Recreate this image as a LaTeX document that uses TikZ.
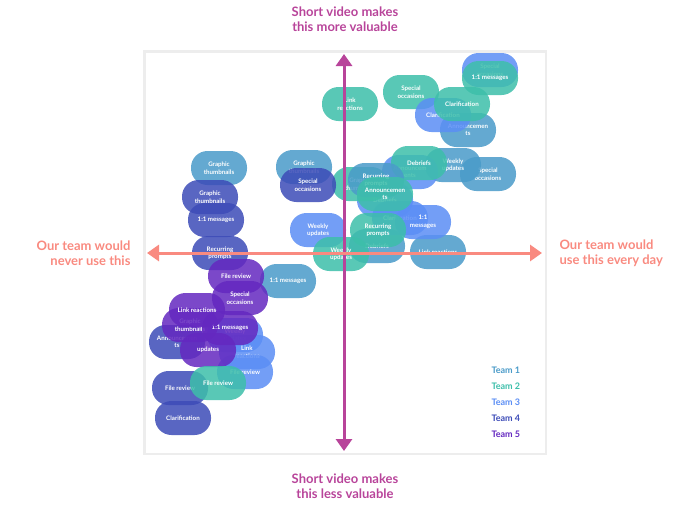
\documentclass[tikz,border=0pt]{standalone}
\usepackage{fontspec}
\setmainfont{Lato}
\usetikzlibrary{arrows.meta}
\definecolor{tA}{HTML}{4A9BC9}
\definecolor{tB}{HTML}{3DBFAA}
\definecolor{tC}{HTML}{5B8EF5}
\definecolor{tD}{HTML}{3D4CB8}
\definecolor{tE}{HTML}{6428C0}
\definecolor{vax}{HTML}{B8449A}
\definecolor{hax}{HTML}{F98A80}
\tikzset{
 note/.style={fill=#1,fill opacity=0.85,text opacity=1,text=white,rounded corners=16.5pt,minimum width=56pt,minimum height=34pt,inner sep=1pt,align=center,font=\fontsize{6.2}{7.5}\selectfont\bfseries},
 lbl/.style={font=\fontsize{13}{15}\selectfont\bfseries,align=center},
 legend/.style={font=\fontsize{9}{10}\selectfont\bfseries,anchor=west}
}
\begin{document}
\begin{tikzpicture}[x=1pt,y=-1pt]
\useasboundingbox (0,0) rectangle (698,504);
\fill[black!7] (143,50) rectangle (547,455);
\node[fill=white,minimum width=399pt,minimum height=400pt,inner sep=0] (panel) at (345,252.5) {};
% notes
\node[note=tA] (a1) at (219,168) {Graphic\\thumbnails};
\node[note=tA] (a2) at (304,167) {Graphic\\thumbnails};
\node[note=tA] (a3) at (288,281) {1:1 messages};
\node[note=tA] (a4) at (488,174) {Special\\occasions};
\node[note=tA] (a5) at (468,130) {Announcemen\\ts};
\node[note=tA] (a6) at (453,165) {Weekly\\updates};
\node[note=tA] (a7) at (438,252) {Link reactions};
\node[note=tA] (a8) at (377,246) {Debriefs};
\node[note=tC] (c1) at (490,70) {Special\\occasions};
\node[note=tB] (b1) at (490,78) {1:1 messages};
\node[note=tB] (b2) at (411,92) {Special\\occasions};
\node[note=tB] (b3) at (350,104) {Link\\reactions};
\node[note=tC] (c2) at (443,115) {Clarification};
\node[note=tB] (b4) at (462,104) {Clarification};
\node[note=tC] (c3) at (410,172) {Announcem\\ents};
\node[note=tB] (b5) at (419,163) {Debriefs};
\node[note=tC] (c4) at (385,200) {Debriefs};
\node[note=tC] (c5) at (400,218) {Clarification};
\node[note=tC] (c6) at (423,222) {1:1\\messages};
\node[note=tB] (b6) at (360,184) {Graphic\\thumbnails};
\node[note=tA] (a9) at (376,180) {Recurring\\prompts};
\node[note=tB] (b7) at (385,194) {Announcemen\\ts};
\node[note=tB] (b8) at (378,230) {Recurring\\prompts};
\node[note=tC] (c7) at (318,230) {Weekly\\updates};
\node[note=tB] (b9) at (341,254) {Weekly\\updates};
\node[note=tD] (d1) at (308,185) {Special\\occasions};
\node[note=tD] (d2) at (210,197) {Graphic\\thumbnails};
\node[note=tD] (d3) at (216,220) {1:1 messages};
\node[note=tD] (d4) at (220,253) {Recurring\\prompts};
\node[note=tE] (e1) at (236,276) {File review};
\node[note=tE] (e2) at (240,298) {Special\\occasions};
\node[note=tC] (c8) at (235,335) {Weekly\\updates};
\node[note=tC] (c9) at (247,352) {Link\\reactions};
\node[note=tC] (c10) at (245,372) {File review};
\node[note=tD] (d5) at (177,342) {Announcemen\\ts};
\node[note=tE] (e3) at (190,325) {Graphic\\thumbnails};
\node[note=tE] (e4) at (230,328) {1:1 messages};
\node[note=tE] (e5) at (197,310) {Link reactions};
\node[note=tE] (e6) at (208,350) {updates};
\node[note=tD] (d6) at (180,388) {File review};
\node[note=tB] (b10) at (218,383) {File review};
\node[note=tD] (d7) at (183,418) {Clarification};
% axes
\coordinate (vt) at (344,54); \coordinate (vb) at (344,451);
\coordinate (hl) at (147,253); \coordinate (hr) at (542,253);
\draw[vax,line width=3pt,{Triangle[length=12pt,width=16pt]}-{Triangle[length=12pt,width=16pt]}] (vt) -- (vb);
\draw[hax,line width=3pt,{Triangle[length=12pt,width=16pt]}-{Triangle[length=12pt,width=16pt]}] (hl) -- (hr);
% labels
\node[lbl,text=vax] (top) at (345,19) {Short video makes\\this more valuable};
\node[lbl,text=vax] (bot) at (345,486) {Short video makes\\this less valuable};
\node[lbl,text=hax,align=right,anchor=east] (lft) at (134,253) {Our team would\\never use this};
\node[lbl,text=hax,align=left,anchor=west] (rgt) at (556,253) {Our team would\\use this every day};
\node[legend,text=tA] (l1) at (488,370) {Team 1};
\node[legend,text=tB] (l2) at (488,386) {Team 2};
\node[legend,text=tC] (l3) at (488,402) {Team 3};
\node[legend,text=tD] (l4) at (488,418) {Team 4};
\node[legend,text=tE] (l5) at (488,434) {Team 5};
\end{tikzpicture}
\end{document}
